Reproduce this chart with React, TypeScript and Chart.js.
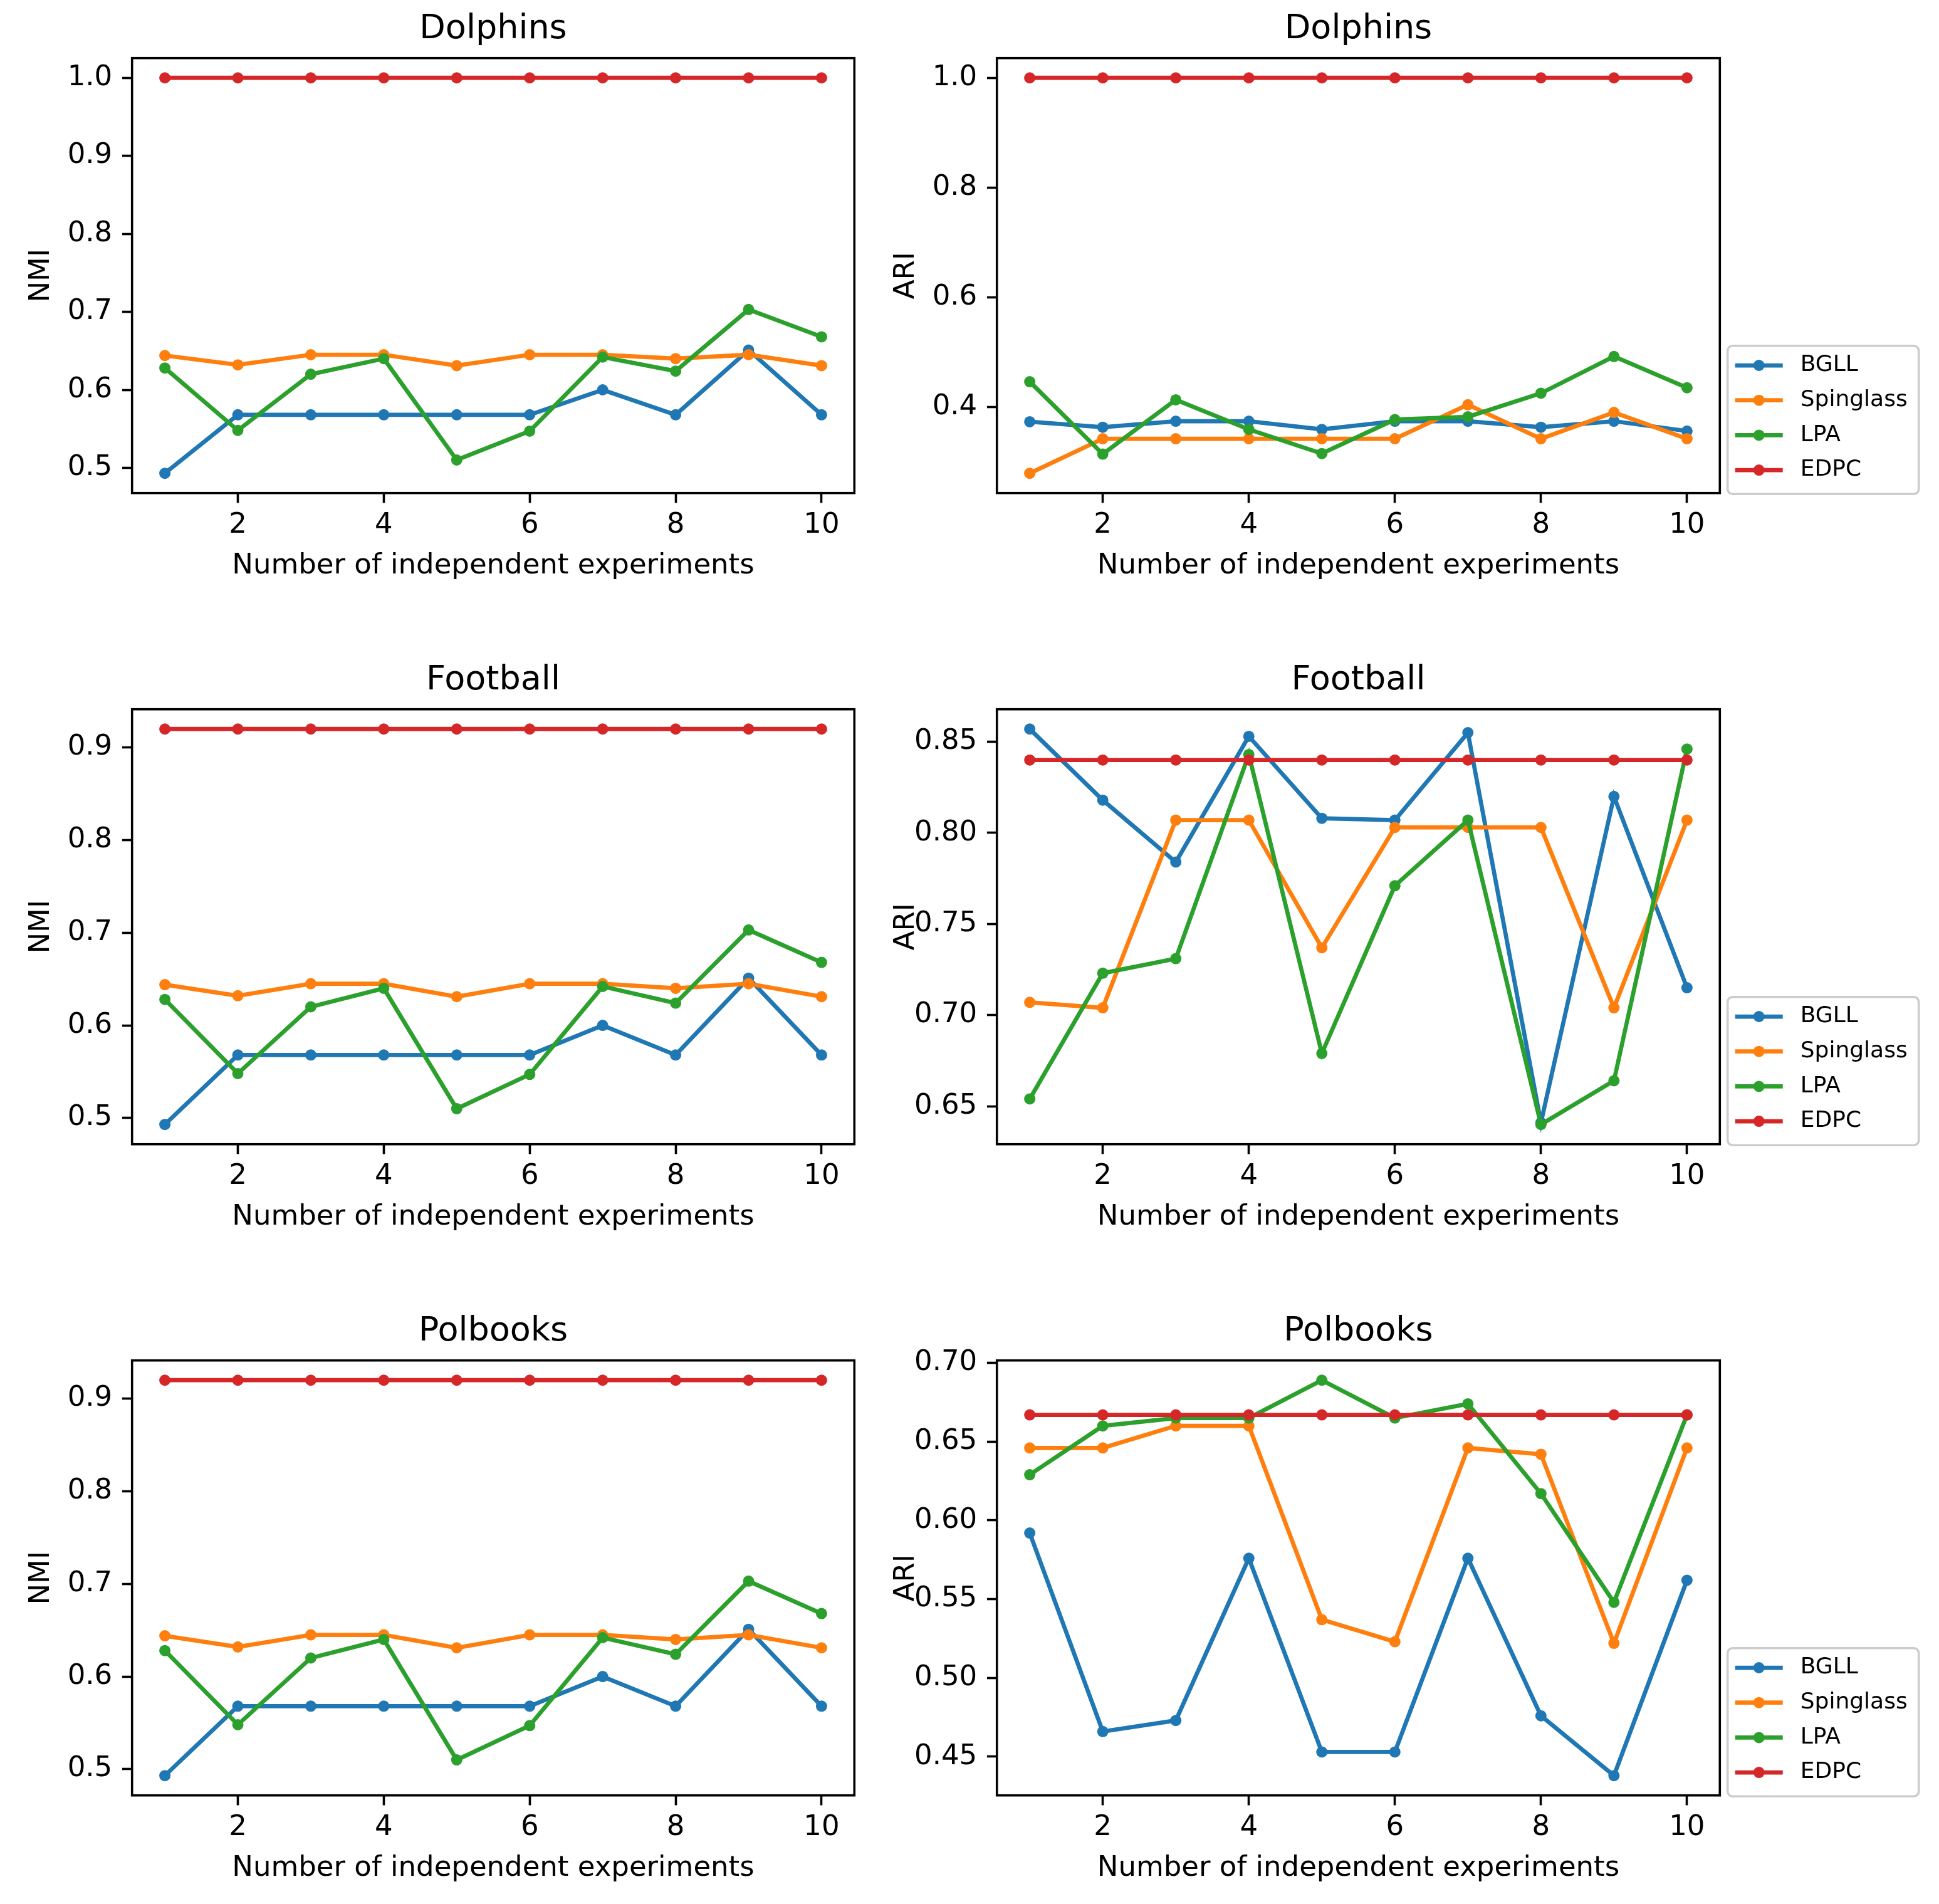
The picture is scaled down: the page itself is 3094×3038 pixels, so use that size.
import React, { useEffect, useRef } from 'react';
import { Chart, registerables } from 'chart.js';

Chart.register(...registerables);

const FONT = "'DejaVu Sans', 'Liberation Sans', sans-serif";

// ---------- data ----------
const runs = [1, 2, 3, 4, 5, 6, 7, 8, 9, 10];
const xTicks = [2, 4, 6, 8, 10];
const methods = ['BGLL', 'Spinglass', 'LPA', 'EDPC'];
const colors = ['#1f77b4', '#ff7f0e', '#2ca02c', '#d62728'];
const xLabel = 'Number of independent experiments';

// NMI (same baseline results shown for all three networks)
const nmiBGLL = [0.493, 0.568, 0.568, 0.568, 0.568, 0.568, 0.600, 0.568, 0.651, 0.568];
const nmiSpinglass = [0.644, 0.632, 0.645, 0.645, 0.631, 0.645, 0.645, 0.640, 0.645, 0.631];
const nmiLPA = [0.628, 0.548, 0.620, 0.640, 0.510, 0.547, 0.642, 0.624, 0.703, 0.668];
const nmiEDPCDolphins = [1.0, 1.0, 1.0, 1.0, 1.0, 1.0, 1.0, 1.0, 1.0, 1.0];
const nmiEDPCFootball = [0.92, 0.92, 0.92, 0.92, 0.92, 0.92, 0.92, 0.92, 0.92, 0.92];
const nmiEDPCPolbooks = [0.92, 0.92, 0.92, 0.92, 0.92, 0.92, 0.92, 0.92, 0.92, 0.92];

// ARI
const ariDolphinsBGLL = [0.373, 0.363, 0.374, 0.374, 0.359, 0.374, 0.374, 0.363, 0.374, 0.356];
const ariDolphinsSpinglass = [0.279, 0.342, 0.342, 0.342, 0.342, 0.342, 0.404, 0.342, 0.390, 0.342];
const ariDolphinsLPA = [0.446, 0.314, 0.413, 0.359, 0.315, 0.377, 0.382, 0.425, 0.492, 0.435];
const ariDolphinsEDPC = [1.0, 1.0, 1.0, 1.0, 1.0, 1.0, 1.0, 1.0, 1.0, 1.0];

const ariFootballBGLL = [0.857, 0.818, 0.784, 0.853, 0.808, 0.807, 0.855, 0.641, 0.820, 0.715];
const ariFootballSpinglass = [0.707, 0.704, 0.807, 0.807, 0.737, 0.803, 0.803, 0.803, 0.704, 0.807];
const ariFootballLPA = [0.654, 0.723, 0.731, 0.843, 0.679, 0.771, 0.807, 0.640, 0.664, 0.846];
const ariFootballEDPC = [0.84, 0.84, 0.84, 0.84, 0.84, 0.84, 0.84, 0.84, 0.84, 0.84];

const ariPolbooksBGLL = [0.592, 0.466, 0.473, 0.576, 0.453, 0.453, 0.576, 0.476, 0.438, 0.562];
const ariPolbooksSpinglass = [0.646, 0.646, 0.660, 0.660, 0.537, 0.523, 0.646, 0.642, 0.522, 0.646];
const ariPolbooksLPA = [0.629, 0.660, 0.665, 0.665, 0.689, 0.665, 0.674, 0.617, 0.548, 0.667];
const ariPolbooksEDPC = [0.667, 0.667, 0.667, 0.667, 0.667, 0.667, 0.667, 0.667, 0.667, 0.667];

// tick labels
const nmiDolphinsTicks = [0.5, 0.6, 0.7, 0.8, 0.9, 1.0];
const nmiOtherTicks = [0.5, 0.6, 0.7, 0.8, 0.9];
const ariDolphinsTicks = [0.4, 0.6, 0.8, 1.0];
const ariFootballTicks = [0.65, 0.7, 0.75, 0.8, 0.85];
const ariPolbooksTicks = [0.45, 0.5, 0.55, 0.6, 0.65, 0.7];

type Panel = {
  title: string;
  yLabel: string;
  series: number[][];
  yTicks: number[];
  decimals: number;
  legend: boolean;
  row: number;
  col: number;
};

const panels: Panel[] = [
  { title: 'Dolphins', yLabel: 'NMI', series: [nmiBGLL, nmiSpinglass, nmiLPA, nmiEDPCDolphins], yTicks: nmiDolphinsTicks, decimals: 1, legend: false, row: 0, col: 0 },
  { title: 'Dolphins', yLabel: 'ARI', series: [ariDolphinsBGLL, ariDolphinsSpinglass, ariDolphinsLPA, ariDolphinsEDPC], yTicks: ariDolphinsTicks, decimals: 1, legend: true, row: 0, col: 1 },
  { title: 'Football', yLabel: 'NMI', series: [nmiBGLL, nmiSpinglass, nmiLPA, nmiEDPCFootball], yTicks: nmiOtherTicks, decimals: 1, legend: false, row: 1, col: 0 },
  { title: 'Football', yLabel: 'ARI', series: [ariFootballBGLL, ariFootballSpinglass, ariFootballLPA, ariFootballEDPC], yTicks: ariFootballTicks, decimals: 2, legend: true, row: 1, col: 1 },
  { title: 'Polbooks', yLabel: 'NMI', series: [nmiBGLL, nmiSpinglass, nmiLPA, nmiEDPCPolbooks], yTicks: nmiOtherTicks, decimals: 1, legend: false, row: 2, col: 0 },
  { title: 'Polbooks', yLabel: 'ARI', series: [ariPolbooksBGLL, ariPolbooksSpinglass, ariPolbooksLPA, ariPolbooksEDPC], yTicks: ariPolbooksTicks, decimals: 2, legend: true, row: 2, col: 1 },
];

// ---------- layout ----------
const PAGE_W = 3094;
const PAGE_H = 3038;
const ROW_TOP = [0, 1039, 2078];
const COL_LEFT = [0, 1380];
const CANVAS_W = [1380, 1714];
const CANVAS_H = 960;
const AXIS_LEFT = 210.7;
const AREA_W = [1152.6, 1153.6];

const PT = 4.5;
const LINE_W = 1.5 * PT;
const SPINE_W = 0.8 * PT;
const TICK_LEN = 3.5 * PT;

const framePlugin = {
  id: 'mplFrame',
  afterDatasetsDraw(chart: any) {
    const { ctx, chartArea } = chart;
    ctx.save();
    ctx.strokeStyle = '#000';
    ctx.lineWidth = SPINE_W;
    ctx.lineJoin = 'miter';
    ctx.strokeRect(chartArea.left, chartArea.top, chartArea.right - chartArea.left, chartArea.bottom - chartArea.top);
    ctx.restore();
  },
};

const legendPlugin = {
  id: 'mplLegend',
  afterDraw(chart: any, _args: any, opts: any) {
    if (!opts || !opts.show) return;
    const { ctx, chartArea } = chart;
    const left = chartArea.right + 12.4;
    const top = chartArea.bottom - 235;
    const w = 305;
    const h = 236.6;
    const r = 8;
    ctx.save();
    ctx.beginPath();
    ctx.moveTo(left + r, top);
    ctx.lineTo(left + w - r, top);
    ctx.arcTo(left + w, top, left + w, top + r, r);
    ctx.lineTo(left + w, top + h - r);
    ctx.arcTo(left + w, top + h, left + w - r, top + h, r);
    ctx.lineTo(left + r, top + h);
    ctx.arcTo(left, top + h, left, top + h - r, r);
    ctx.lineTo(left, top + r);
    ctx.arcTo(left, top, left + r, top, r);
    ctx.closePath();
    ctx.fillStyle = 'rgba(255,255,255,0.8)';
    ctx.fill();
    ctx.strokeStyle = '#cccccc';
    ctx.lineWidth = 3.6;
    ctx.stroke();
    chart.data.datasets.forEach((ds: any, i: number) => {
      const y = top + 31.3 + i * 55.7;
      ctx.strokeStyle = ds.borderColor;
      ctx.lineWidth = LINE_W;
      ctx.beginPath();
      ctx.moveTo(left + 12, y);
      ctx.lineTo(left + 88, y);
      ctx.stroke();
      ctx.fillStyle = ds.borderColor;
      ctx.beginPath();
      ctx.arc(left + 50, y, 9, 0, Math.PI * 2);
      ctx.fill();
      ctx.fillStyle = '#000';
      ctx.font = `36px ${FONT}`;
      ctx.textAlign = 'left';
      ctx.textBaseline = 'middle';
      ctx.fillText(ds.label, left + 116, y);
    });
    ctx.restore();
  },
};

function PanelChart({ panel }: { panel: Panel }) {
  const ref = useRef<HTMLCanvasElement | null>(null);

  useEffect(() => {
    if (!ref.current) return;
    const all = panel.series.flat();
    const lo = Math.min(...all);
    const hi = Math.max(...all);
    const m = (hi - lo) * 0.05;
    const tickFont = { family: FONT, size: 45, weight: 'normal' as const };

    const chart = new Chart(ref.current, {
      type: 'line',
      data: {
        datasets: panel.series.map((vals, i) => ({
          label: methods[i],
          data: runs.map((x, j) => ({ x, y: vals[j] })),
          borderColor: colors[i],
          backgroundColor: colors[i],
          borderWidth: LINE_W,
          pointRadius: 9,
          pointHoverRadius: 9,
          pointBorderWidth: 0,
          pointBackgroundColor: colors[i],
          pointBorderColor: colors[i],
          tension: 0,
          fill: false,
          order: 4 - i,
        })),
      },
      options: {
        animation: false,
        responsive: false,
        events: [],
        layout: {
          padding: {
            top: 0,
            left: 0,
            right: CANVAS_W[panel.col] - AXIS_LEFT - AREA_W[panel.col],
            bottom: 23.3,
          },
        },
        plugins: {
          legend: { display: false },
          tooltip: { enabled: false },
          title: {
            display: true,
            text: panel.title,
            color: '#000',
            fullSize: false,
            font: { family: FONT, size: 54, weight: 'normal' },
            padding: { top: 14.6, bottom: 13.3 },
          },
          mplLegend: { show: panel.legend },
        } as any,
        scales: {
          x: {
            type: 'linear',
            min: 0.55,
            max: 10.45,
            afterBuildTicks: (s: any) => {
              s.ticks = xTicks.map((v) => ({ value: v }));
            },
            afterFit: (s: any) => {
              s.height = 150;
            },
            grid: {
              display: true,
              drawOnChartArea: false,
              drawTicks: true,
              tickLength: TICK_LEN,
              tickWidth: SPINE_W,
              tickColor: '#000',
            },
            border: { display: false },
            ticks: {
              color: '#000',
              font: tickFont,
              padding: 8.5,
              autoSkip: false,
              maxRotation: 0,
              minRotation: 0,
              callback: (v: any) => String(v),
            },
            title: {
              display: true,
              text: xLabel,
              color: '#000',
              font: tickFont,
              padding: { top: 0, bottom: 6.3 },
            },
          },
          y: {
            type: 'linear',
            min: lo - m,
            max: hi + m,
            afterBuildTicks: (s: any) => {
              s.ticks = panel.yTicks.map((v) => ({ value: v }));
            },
            afterFit: (s: any) => {
              s.width = AXIS_LEFT;
            },
            grid: {
              display: true,
              drawOnChartArea: false,
              drawTicks: true,
              tickLength: TICK_LEN,
              tickWidth: SPINE_W,
              tickColor: '#000',
            },
            border: { display: false },
            ticks: {
              color: '#000',
              font: tickFont,
              padding: TICK_LEN,
              autoSkip: false,
              callback: (v: any) => Number(v).toFixed(panel.decimals),
            },
            title: {
              display: true,
              text: panel.yLabel,
              color: '#000',
              font: tickFont,
              padding: { top: 39, bottom: 0 },
            },
          },
        },
      },
      plugins: [framePlugin, legendPlugin],
    } as any);

    return () => chart.destroy();
  }, [panel]);

  return (
    <canvas
      ref={ref}
      width={CANVAS_W[panel.col]}
      height={CANVAS_H}
      style={{
        position: 'absolute',
        left: COL_LEFT[panel.col],
        top: ROW_TOP[panel.row],
        width: CANVAS_W[panel.col],
        height: CANVAS_H,
      }}
    />
  );
}

export default function App() {
  return (
    <div
      style={{
        position: 'absolute',
        left: 0,
        top: 0,
        width: PAGE_W,
        height: PAGE_H,
        overflow: 'hidden',
        background: '#fff',
      }}
    >
      {panels.map((p, i) => (
        <PanelChart key={i} panel={p} />
      ))}
    </div>
  );
}
